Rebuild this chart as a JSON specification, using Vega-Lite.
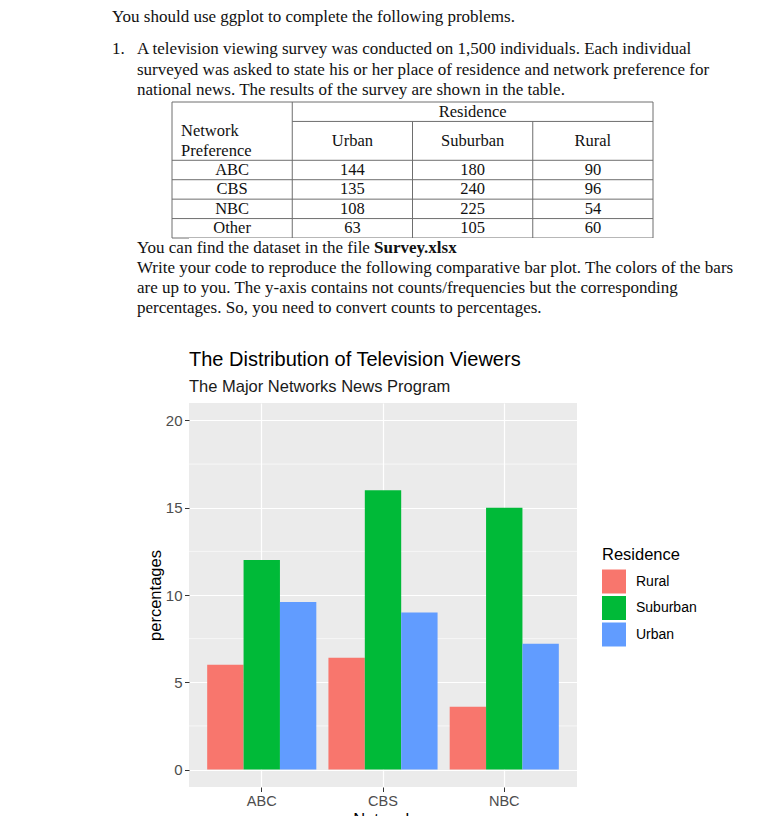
{
  "$schema": "https://vega.github.io/schema/vega-lite/v6.json",
  "padding": {"left": 112, "top": 0, "right": 0, "bottom": 0},
  "background": "white",
  "spacing": 0,
  "bounds": "flush",
  "config": {"view": {"stroke": null}},
  "datasets": {
    "docTop": [
      {"line": 1, "indent": 0, "text": "You should use ggplot to complete the following problems."},
      {"line": 2, "indent": 0, "text": "1."},
      {"line": 2, "indent": 1, "text": "A television viewing survey was conducted on 1,500 individuals. Each individual"},
      {"line": 3, "indent": 1, "text": "surveyed was asked to state his or her place of residence and network preference for"},
      {"line": 4, "indent": 1, "text": "national news. The results of the survey are shown in the table."}
    ],
    "docBottom": [
      {"line": 1, "indent": 1, "text": "You can find the dataset in the file"},
      {"line": 2, "indent": 1, "text": "Write your code to reproduce the following comparative bar plot. The colors of the bars"},
      {"line": 3, "indent": 1, "text": "are up to you. The y-axis contains not counts/frequencies but the corresponding"},
      {"line": 4, "indent": 1, "text": "percentages. So, you need to convert counts to percentages."}
    ],
    "docBold": [
      {"line": 1, "indent": 1, "text": "Survey.xlsx"}
    ],
    "tableCells": [
      {"r": 0.5, "c": 2.5, "t": "Residence"},
      {"r": 2, "c": 1.5, "t": "Urban"},
      {"r": 2, "c": 2.5, "t": "Suburban"},
      {"r": 2, "c": 3.5, "t": "Rural"},
      {"r": 3.5, "c": 0.5, "t": "ABC"},
      {"r": 3.5, "c": 1.5, "t": "144"},
      {"r": 3.5, "c": 2.5, "t": "180"},
      {"r": 3.5, "c": 3.5, "t": "90"},
      {"r": 4.5, "c": 0.5, "t": "CBS"},
      {"r": 4.5, "c": 1.5, "t": "135"},
      {"r": 4.5, "c": 2.5, "t": "240"},
      {"r": 4.5, "c": 3.5, "t": "96"},
      {"r": 5.5, "c": 0.5, "t": "NBC"},
      {"r": 5.5, "c": 1.5, "t": "108"},
      {"r": 5.5, "c": 2.5, "t": "225"},
      {"r": 5.5, "c": 3.5, "t": "54"},
      {"r": 6.5, "c": 0.5, "t": "Other"},
      {"r": 6.5, "c": 1.5, "t": "63"},
      {"r": 6.5, "c": 2.5, "t": "105"},
      {"r": 6.5, "c": 3.5, "t": "60"}
    ],
    "tableHeadLeft": [
      {"r": 1.5, "c": 0, "t": "Network"},
      {"r": 2.5, "c": 0, "t": "Preference"}
    ],
    "tableH": [
      {"y": 0, "x1": 0, "x2": 4},
      {"y": 1, "x1": 1, "x2": 4},
      {"y": 3, "x1": 0, "x2": 4},
      {"y": 4, "x1": 0, "x2": 4},
      {"y": 5, "x1": 0, "x2": 4},
      {"y": 6, "x1": 0, "x2": 4},
      {"y": 7, "x1": 0, "x2": 4}
    ],
    "tableV": [
      {"x": 0, "y1": 0, "y2": 7},
      {"x": 1, "y1": 0, "y2": 7},
      {"x": 2, "y1": 1, "y2": 7},
      {"x": 3, "y1": 1, "y2": 7},
      {"x": 4, "y1": 0, "y2": 7}
    ],
    "minorGrid": [{"percentages": 2.5}, {"percentages": 7.5}, {"percentages": 12.5}, {"percentages": 17.5}],
    "survey": [
      {"Network": "ABC", "Residence": "Rural", "percentages": 6},
      {"Network": "ABC", "Residence": "Suburban", "percentages": 12},
      {"Network": "ABC", "Residence": "Urban", "percentages": 9.6},
      {"Network": "CBS", "Residence": "Rural", "percentages": 6.4},
      {"Network": "CBS", "Residence": "Suburban", "percentages": 16},
      {"Network": "CBS", "Residence": "Urban", "percentages": 9},
      {"Network": "NBC", "Residence": "Rural", "percentages": 3.6},
      {"Network": "NBC", "Residence": "Suburban", "percentages": 15},
      {"Network": "NBC", "Residence": "Urban", "percentages": 7.2}
    ]
  },
  "vconcat": [
    {
      "width": 464,
      "height": 102,
      "view": {"fill": "white", "stroke": null},
      "data": {"name": "docTop"},
      "mark": {"type": "text", "align": "left", "baseline": "alphabetic", "font": "Liberation Serif", "fontSize": 17, "color": "#111111"},
      "encoding": {
        "x": {"field": "indent", "type": "quantitative", "scale": {"domain": [0, 1], "range": [-77, -52], "nice": false, "zero": false}, "axis": null},
        "y": {"field": "line", "type": "quantitative", "scale": {"domain": [1, 2, 4], "range": [22.3, 54.3, 95], "nice": false, "zero": false}, "axis": null},
        "text": {"field": "text"}
      }
    },
    {
      "width": 464,
      "height": 136,
      "view": {"fill": "white", "stroke": null},
      "layer": [
        {
          "data": {"name": "tableH"},
          "mark": {"type": "rule", "color": "#6E6E6E", "strokeWidth": 1},
          "encoding": {
            "x": {"field": "x1", "type": "quantitative", "scale": {"domain": [0, 4], "range": [-17, 464], "nice": false, "zero": false}, "axis": null},
            "x2": {"field": "x2"},
            "y": {"field": "y", "type": "quantitative", "scale": {"domain": [0, 7], "range": [0, 136], "nice": false, "zero": false}, "axis": null}
          }
        },
        {
          "data": {"name": "tableV"},
          "mark": {"type": "rule", "color": "#6E6E6E", "strokeWidth": 1},
          "encoding": {
            "x": {"field": "x", "type": "quantitative", "axis": null},
            "y": {"field": "y1", "type": "quantitative", "axis": null},
            "y2": {"field": "y2"}
          }
        },
        {
          "data": {"name": "tableCells"},
          "mark": {"type": "text", "align": "center", "baseline": "middle", "font": "Liberation Serif", "fontSize": 16.5, "color": "#111111"},
          "encoding": {
            "x": {"field": "c", "type": "quantitative", "axis": null},
            "y": {"field": "r", "type": "quantitative", "axis": null},
            "text": {"field": "t"}
          }
        },
        {
          "data": {"name": "tableHeadLeft"},
          "mark": {"type": "text", "align": "left", "baseline": "middle", "dx": 9, "font": "Liberation Serif", "fontSize": 16.5, "color": "#111111"},
          "encoding": {
            "x": {"field": "c", "type": "quantitative", "axis": null},
            "y": {"field": "r", "type": "quantitative", "axis": null},
            "text": {"field": "t"}
          }
        }
      ]
    },
    {
      "width": 464,
      "height": 165,
      "view": {"fill": "white", "stroke": null},
      "encoding": {
        "x": {"field": "indent", "type": "quantitative", "scale": {"domain": [0, 1], "range": [-77, -52], "nice": false, "zero": false}, "axis": null},
        "y": {"field": "line", "type": "quantitative", "scale": {"domain": [1, 4], "range": [15.3, 74.7], "nice": false, "zero": false}, "axis": null},
        "text": {"field": "text"}
      },
      "layer": [
        {
          "data": {"name": "docBottom"},
          "mark": {"type": "text", "align": "left", "baseline": "alphabetic", "font": "Liberation Serif", "fontSize": 17, "color": "#111111"}
        },
        {
          "data": {"name": "docBold"},
          "mark": {"type": "text", "align": "left", "baseline": "alphabetic", "dx": 237, "font": "Liberation Serif", "fontSize": 17, "fontWeight": "bold", "color": "#111111"}
        }
      ]
    },
    {
      "width": 388,
      "height": 384,
      "view": {"fill": "#EBEBEB", "stroke": null},
      "title": {
        "text": "The Distribution of Television Viewers",
        "subtitle": "The Major Networks News Program",
        "anchor": "start",
        "frame": "group",
        "font": "Liberation Sans",
        "fontSize": 20,
        "fontWeight": "normal",
        "color": "#000000",
        "subtitleFont": "Liberation Sans",
        "subtitleFontSize": 16.5,
        "subtitleColor": "#1A1A1A",
        "subtitlePadding": 9,
        "offset": 8
      },
      "encoding": {
        "y": {
          "field": "percentages", "type": "quantitative",
          "scale": {"domain": [-1, 21], "nice": false, "zero": false},
          "axis": {
            "title": "percentages", "values": [0, 5, 10, 15, 20],
            "grid": true, "gridColor": "white", "gridWidth": 1.2,
            "domain": false, "tickColor": "#333333", "tickSize": 4.5, "tickWidth": 1,
            "labelColor": "#4D4D4D", "labelFont": "Liberation Sans", "labelFontSize": 15, "labelPadding": 2.5,
            "titleFont": "Liberation Sans", "titleFontSize": 16.5, "titleFontWeight": "normal", "titleColor": "#000000", "titlePadding": 2
          }
        }
      },
      "layer": [
        {
          "data": {"name": "minorGrid"},
          "mark": {"type": "rule", "color": "white", "strokeWidth": 0.6}
        },
        {
          "data": {"name": "survey"},
          "mark": {"type": "bar"},
          "encoding": {
            "x": {
              "field": "Network", "type": "nominal",
              "scale": {"paddingInner": 0.1, "paddingOuter": 0.15},
              "axis": {
                "title": "Network", "labelAngle": 0, "bandPosition": 0.5,
                "grid": true, "gridColor": "white", "gridWidth": 1.2,
                "domain": false, "tickColor": "#333333", "tickSize": 4.5, "tickWidth": 1,
                "labelColor": "#4D4D4D", "labelFont": "Liberation Sans", "labelFontSize": 14.5, "labelPadding": 3,
                "titleFont": "Liberation Sans", "titleFontSize": 16.5, "titleFontWeight": "normal", "titleColor": "#000000", "titlePadding": 3
              }
            },
            "xOffset": {"field": "Residence", "type": "nominal", "scale": {"paddingInner": 0, "paddingOuter": 0}},
            "y": {"field": "percentages", "type": "quantitative", "stack": null},
            "color": {
              "field": "Residence", "type": "nominal",
              "scale": {"domain": ["Rural", "Suburban", "Urban"], "range": ["#F8766D", "#00BA38", "#619CFF"]},
              "legend": {
                "orient": "none", "legendX": 413, "legendY": 547,
                "title": "Residence", "titleFont": "Liberation Sans", "titleFontSize": 16.5, "titleFontWeight": "normal", "titleColor": "#000000", "titlePadding": 6,
                "symbolType": "square", "symbolSize": 576, "symbolStrokeWidth": 0, "symbolOpacity": 1,
                "labelFont": "Liberation Sans", "labelFontSize": 14, "labelColor": "#000000", "labelOffset": 10, "rowPadding": 2.5
              }
            }
          }
        }
      ]
    }
  ]
}
